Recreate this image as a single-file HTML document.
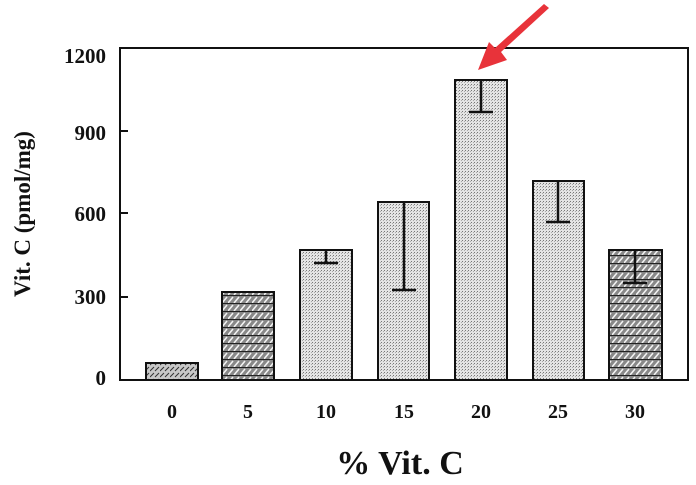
<!DOCTYPE html>
<html><head><meta charset="utf-8"><style>
html,body{margin:0;padding:0;background:#fff;width:696px;height:485px;overflow:hidden}
text{font-family:"Liberation Serif",serif;font-weight:bold;fill:#111}
</style></head><body>
<svg width="696" height="485" viewBox="0 0 696 485" xmlns="http://www.w3.org/2000/svg">
<defs>
<pattern id="dots" width="3" height="3" patternUnits="userSpaceOnUse">
<rect width="3" height="3" fill="#e4e4e4"/><rect width="1" height="1" fill="#777"/><rect x="2" y="1" width="1" height="1" fill="#aaa"/>
</pattern>
<pattern id="hatch" width="12" height="8" patternUnits="userSpaceOnUse">
<rect width="12" height="8" fill="#888"/>
<path d="M0 7 L5 1 M6 7 L11 1" stroke="#f2f2f2" stroke-width="1.6"/>
<path d="M0 7.5 H12" stroke="#222" stroke-width="1"/>
</pattern>
<pattern id="hatchL" width="10" height="6" patternUnits="userSpaceOnUse">
<rect width="10" height="6" fill="#c8c8c8"/><path d="M0 5 L4 1 M5 5 L9 1" stroke="#333" stroke-width="1"/>
</pattern>
</defs>
<rect x="120" y="48" width="568" height="332" fill="none" stroke="#111" stroke-width="2"/>
<g stroke="#111" stroke-width="2">
<line x1="120" y1="131" x2="128" y2="131"/><line x1="120" y1="213" x2="128" y2="213"/><line x1="120" y1="297" x2="128" y2="297"/>
</g>
<g stroke="#111" stroke-width="2">
<rect x="146" y="363" width="52" height="17" fill="url(#hatchL)"/>
<rect x="222" y="292" width="52" height="88" fill="url(#hatch)"/>
<rect x="300" y="250" width="52" height="130" fill="url(#dots)"/>
<rect x="378" y="202" width="51" height="178" fill="url(#dots)"/>
<rect x="455" y="80" width="52" height="300" fill="url(#dots)"/>
<rect x="533" y="181" width="51" height="199" fill="url(#dots)"/>
<rect x="609" y="250" width="53" height="130" fill="url(#hatch)"/>
</g>
<g stroke="#111" stroke-width="2.5">
<line x1="326" y1="250" x2="326" y2="263"/><line x1="314" y1="263" x2="338" y2="263"/>
<line x1="404" y1="202" x2="404" y2="290"/><line x1="392" y1="290" x2="416" y2="290"/>
<line x1="481" y1="80" x2="481" y2="112"/><line x1="469" y1="112" x2="493" y2="112"/>
<line x1="558" y1="181" x2="558" y2="222"/><line x1="546" y1="222" x2="570" y2="222"/>
<line x1="635" y1="250" x2="635" y2="283"/><line x1="623" y1="283" x2="647" y2="283"/>
</g>
<g font-size="21" text-anchor="end">
<text x="106" y="63">1200</text><text x="106" y="140">900</text><text x="106" y="221">600</text><text x="106" y="304">300</text><text x="106" y="385">0</text>
</g>
<g font-size="20" text-anchor="middle">
<text x="172" y="418">0</text><text x="248" y="418">5</text><text x="326" y="418">10</text><text x="404" y="418">15</text><text x="481" y="418">20</text><text x="558" y="418">25</text><text x="635" y="418">30</text>
</g>
<text x="400" y="474" font-size="34" text-anchor="middle">% Vit. C</text>
<text transform="translate(30,214) rotate(-90)" font-size="23" text-anchor="middle">Vit. C (pmol/mg)</text>
<path d="M549 8 L501 52 L507 60 L478 70 L489 42 L495 48 L544 4 Z" fill="#e8333a"/>
</svg>
</body></html>
